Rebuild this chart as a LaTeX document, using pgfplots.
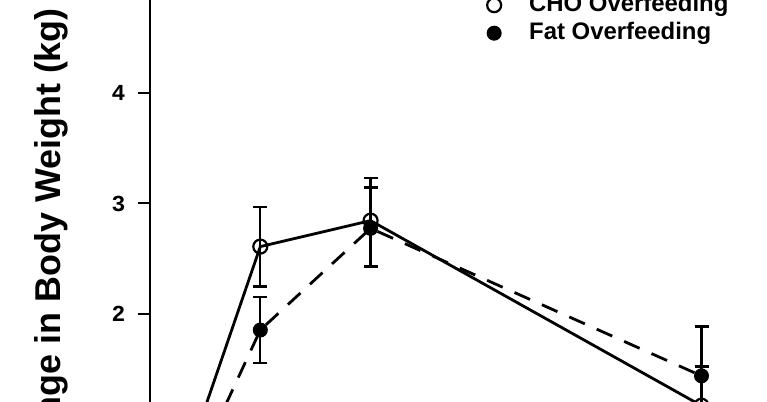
\documentclass[border=0pt]{standalone}
\usepackage{fontspec}
\setmainfont{Liberation Sans}
\setmonofont{Liberation Mono}
\usepackage{pgfplots}
\pgfplotsset{compat=1.18}
\begin{document}
\begin{tikzpicture}
\clip (-150bp,0bp) rectangle (617bp,402bp);
\begin{axis}[
  at={(0,0)}, anchor=south west,
  x=110.3bp, y=110.5bp,
  xmin=0, xmax=5.594, ymin=1.2036, ymax=4.8416,
  clip=false,
  axis x line=none,
  axis y line=left,
  axis line style={-, line width=2.6bp},
  ytick={2,3,4},
  tick align=outside,
  major tick length=12bp,
  tick style={line width=2bp, black},
  /pgf/number format/assume math mode=true,
  yticklabel style={font=\ttfamily\bfseries\fontsize{23}{23}\selectfont, xshift=-9bp},
  ylabel={Change in Body Weight (kg)},
  every axis y label/.style={at={([xshift=-82bp]axis cs:0,2.6064)}, rotate=90, anchor=south,
    font=\bfseries\fontsize{36}{36}\selectfont, inner sep=0pt},
  legend image code/.code={\draw[#1] plot coordinates {(0bp,0bp)};},
  legend style={at={(axis cs:3.055,4.896)}, anchor=north west, draw=none, fill=none,
    inner sep=0pt, column sep=26bp, row sep=6bp,
    font=\bfseries\fontsize{24}{24}\selectfont,
    nodes={inner ysep=0pt, text height=17bp, text depth=5bp}},
  legend cell align=left,
]
\addplot[black, line width=2.8bp, mark=o, mark size=7bp,
  mark options={solid, line width=2.2bp},
  error bars/.cd, y dir=both, y explicit,
  error bar style={line width=2.2bp, solid},
  error mark options={rotate=90, mark size=7bp, line width=2.6bp}]
  coordinates {
    (0,-0.3) +- (0,0)
    (1,2.61) +- (0,0.36)
    (2,2.845) += (0,0.385) -= (0,0.415)
    (5,1.17) +- (0,0.355)
  };
\addlegendentry{CHO Overfeeding}
\addplot[black, line width=2.8bp, dash pattern=on 17bp off 13bp, mark=*, mark size=7bp,
  mark options={solid, fill=black, line width=1bp},
  error bars/.cd, y dir=both, y explicit,
  error bar style={line width=2.2bp, solid},
  error mark options={rotate=90, mark size=7bp, line width=2.6bp}]
  coordinates {
    (0,-0.3) +- (0,0)
    (1,1.855) +- (0,0.30)
    (2,2.775) += (0,0.37) -= (0,0.35)
    (5,1.44) +- (0,0.445)
  };
\addlegendentry{Fat Overfeeding}
\end{axis}
\end{tikzpicture}
\end{document}
